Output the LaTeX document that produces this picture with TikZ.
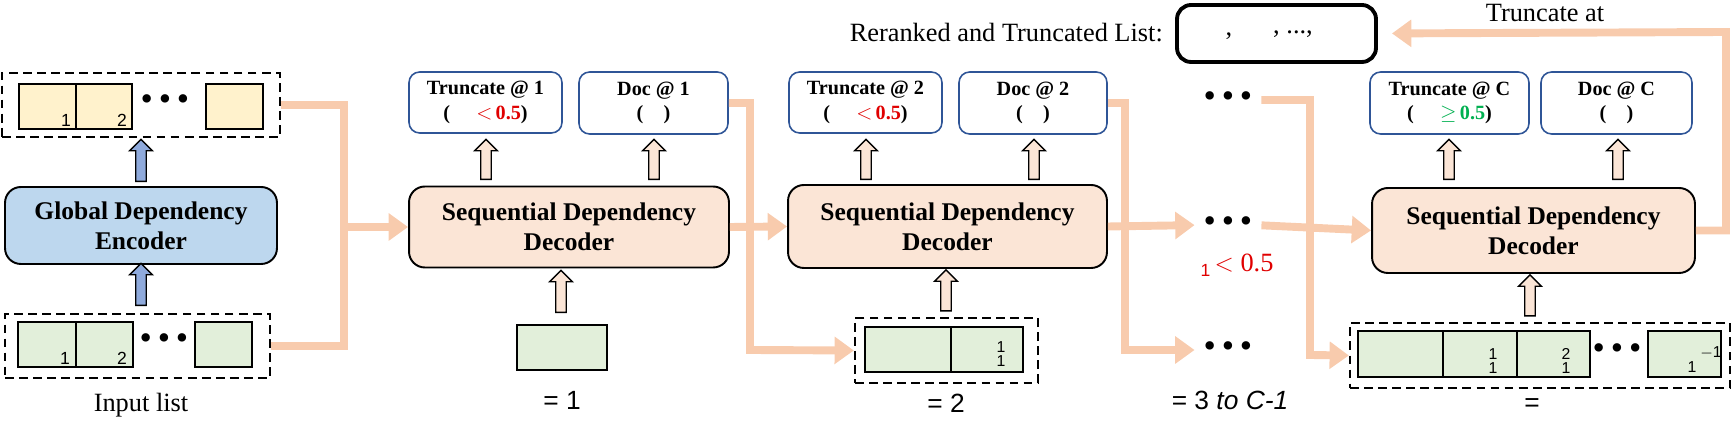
\documentclass[tikz,border=0pt]{standalone}
\usepackage{fontspec}
\setmainfont{Liberation Serif}
\setsansfont{Liberation Sans}
\usetikzlibrary{shapes.arrows,arrows.meta,calc}
\definecolor{oline}{HTML}{F8CBAD}
\definecolor{ofill}{HTML}{FBE5D6}
\definecolor{yfill}{HTML}{FFF2CC}
\definecolor{gfill}{HTML}{E2EFDA}
\definecolor{bfill}{HTML}{BDD7EE}
\definecolor{barrow}{HTML}{8FAADC}
\definecolor{bborder}{HTML}{2F5597}
\definecolor{gtext}{HTML}{00B050}
\definecolor{rtext}{HTML}{E00000}
\begin{document}
\begin{tikzpicture}[x=0.02cm,y=-0.02cm,
  dbox/.style={draw,line width=1.3pt,dash pattern=on 5pt off 3pt,inner sep=0},
  cellY/.style={draw,line width=1pt,fill=yfill,inner sep=0},
  cellG/.style={draw,line width=1pt,fill=gfill,inner sep=0},
  sub/.style={font=\sffamily\fontsize{10}{10}\selectfont,inner sep=0},
  big/.style={draw,line width=1.1pt,rounded corners=9pt,align=center,font=\bfseries\fontsize{14.5}{17}\selectfont},
  small/.style={draw=bborder,line width=0.9pt,rounded corners=6pt,fill=white,align=center,font=\bfseries\fontsize{11.5}{14}\selectfont},
  harrow/.style={single arrow,draw,line width=0.8pt,shape border rotate=90,inner sep=2.6pt,single arrow head extend=3.5pt,minimum height=0.84cm},
  ol/.style={oline,line width=4.5pt},
  ola/.style={oline,line width=4.5pt,-{Triangle[length=11pt,width=15pt]}},
  dots/.style={font=\fontsize{20}{20}\selectfont,inner sep=1pt},
  lab/.style={font=\sffamily\fontsize{15}{15}\selectfont}
]
\useasboundingbox (0,0) rectangle (1732,421);
% left part
\node[dbox,minimum width=5.56cm,minimum height=1.28cm] (tdash) at (141,105) {};
\node[cellY,minimum width=1.14cm,minimum height=0.9cm] (y1) at (47.5,106.5) {};
\node[cellY,minimum width=1.12cm,minimum height=0.9cm] (y2) at (104,106.5) {};
\node[cellY,minimum width=1.14cm,minimum height=0.9cm] (y3) at (234.5,106.5) {};
\node[dots] (yd) at (165,103) {\textbullet\,\textbullet\,\textbullet};
\node[sub] (ys1) at (66,120) {1};
\node[sub] (ys2) at (122,120) {2};
\node[harrow,fill=barrow] (ba1) at (141,163) {};
\node[big,fill=bfill,minimum width=5.44cm,minimum height=1.54cm] (gde) at (141,225.5) {Global Dependency\\Encoder};
\node[harrow,fill=barrow] (ba2) at (141,287) {};
\node[dbox,minimum width=5.3cm,minimum height=1.28cm] (bdash) at (137.5,346) {};
\node[cellG,minimum width=1.16cm,minimum height=0.9cm] (g1) at (47,344.5) {};
\node[cellG,minimum width=1.14cm,minimum height=0.9cm] (g2) at (104.5,344.5) {};
\node[cellG,minimum width=1.14cm,minimum height=0.9cm] (g3) at (223.5,344.5) {};
\node[dots] (gd) at (164,342) {\textbullet\,\textbullet\,\textbullet};
\node[sub] (gs1) at (65,358) {1};
\node[sub] (gs2) at (122,358) {2};
\node[font=\fontsize{15}{15}\selectfont] (inl) at (141,405) {Input list};
% stage 1
\node[small,minimum width=3.06cm,minimum height=1.22cm] (t1) at (485.5,102.5) {Truncate @ 1\\(\hspace{1.3em}\textcolor{rtext}{$<$\,0.5})};
\node[small,minimum width=2.98cm,minimum height=1.24cm] (d1) at (653.5,103) {Doc @ 1\\(\hspace{1em})};
\node[big,fill=ofill,minimum width=6.4cm,minimum height=1.62cm] (s1) at (569,227) {Sequential Dependency\\Decoder};
\node[harrow,fill=ofill,minimum height=0.8cm] (a1t) at (486,162) {};
\node[harrow,fill=ofill,minimum height=0.8cm] (a1d) at (654,162) {};
\node[harrow,fill=ofill] (a1i) at (561,294) {};
\node[cellG,minimum width=1.8cm,minimum height=0.9cm] (c1) at (562,347.5) {};
\node[lab] (e1) at (562,400) {= 1};
% stage 2
\node[small,minimum width=3.06cm,minimum height=1.22cm] (t2) at (865.5,102.5) {Truncate @ 2\\(\hspace{1.3em}\textcolor{rtext}{$<$\,0.5})};
\node[small,minimum width=2.96cm,minimum height=1.24cm] (d2) at (1033,103) {Doc @ 2\\(\hspace{1em})};
\node[big,fill=ofill,minimum width=6.38cm,minimum height=1.66cm] (s2) at (947.5,226.5) {Sequential Dependency\\Decoder};
\node[harrow,fill=ofill,minimum height=0.8cm] (a2t) at (866,162) {};
\node[harrow,fill=ofill,minimum height=0.8cm] (a2d) at (1034,162) {};
\node[harrow,fill=ofill,minimum height=0.82cm] (a2i) at (946,293) {};
\node[dbox,minimum width=3.66cm,minimum height=1.3cm] (dash2) at (946.5,350.5) {};
\node[cellG,minimum width=1.72cm,minimum height=0.9cm] (c21) at (908,349.5) {};
\node[cellG,minimum width=1.44cm,minimum height=0.9cm] (c22) at (987,349.5) {};
\node[sub,align=center,font=\sffamily\fontsize{9}{8}\selectfont] (c22s) at (1001,354) {1\\1};
\node[lab] (e2) at (946,403) {= 2};
% top list
\node[font=\fontsize{15}{15}\selectfont,anchor=east] (rl) at (1169,33) {Reranked and Truncated List:};
\node[draw,line width=2.2pt,rounded corners=8pt,minimum width=3.98cm,minimum height=1.14cm] (lb) at (1276.5,33.5) {};
\node[font=\fontsize{15}{15}\selectfont] (cm1) at (1229,36) {,};
\node[font=\fontsize{15}{15}\selectfont] (cm2) at (1293,34) {, ...,};
% middle dots
\node[dots] (dA) at (1228,100) {\textbullet\,\textbullet\,\textbullet};
\node[dots] (dB) at (1228,225) {\textbullet\,\textbullet\,\textbullet};
\node[dots] (dC) at (1228,350) {\textbullet\,\textbullet\,\textbullet};
\node[text=rtext,font=\fontsize{15}{15}\selectfont] (rc) at (1237,265) {\textsf{\fontsize{10}{10}\selectfont\raisebox{-3pt}{1}}\,$<$ 0.5};
\node[lab] (e3) at (1230,400) {= 3 \textit{to C-1}};
% stage C
\node[small,minimum width=3.18cm,minimum height=1.24cm] (tC) at (1449.5,103) {Truncate @ C\\(\hspace{1.3em}\textcolor{gtext}{$\geq$\,0.5})};
\node[small,minimum width=3.02cm,minimum height=1.24cm] (dCC) at (1616.5,103) {Doc @ C\\(\hspace{1em})};
\node[big,fill=ofill,minimum width=6.46cm,minimum height=1.7cm] (s3) at (1533.5,230.5) {Sequential Dependency\\Decoder};
\node[harrow,fill=ofill,minimum height=0.8cm] (a3t) at (1449,162) {};
\node[harrow,fill=ofill,minimum height=0.8cm] (a3d) at (1618,162) {};
\node[harrow,fill=ofill,minimum height=0.82cm] (a3i) at (1530,298) {};
\node[dbox,minimum width=7.6cm,minimum height=1.3cm] (dash3) at (1540,355.5) {};
\node[cellG,minimum width=1.7cm,minimum height=0.92cm] (c31) at (1400.5,354) {};
\node[cellG,minimum width=1.48cm,minimum height=0.92cm] (c32) at (1480,354) {};
\node[cellG,minimum width=1.46cm,minimum height=0.92cm] (c33) at (1553.5,354) {};
\node[dots] (c3d) at (1617,352) {\textbullet\,\textbullet\,\textbullet};
\node[cellG,minimum width=1.46cm,minimum height=0.92cm] (c35) at (1684.5,354) {};
\node[sub,align=center,font=\sffamily\fontsize{9}{8}\selectfont] (c32s) at (1493,361) {1\\1};
\node[sub,align=center,font=\sffamily\fontsize{9}{8}\selectfont] (c33s) at (1566,361) {2\\1};
\node[sub,font=\sffamily\fontsize{9}{9}\selectfont] (c35a) at (1711,353) {$-$1};
\node[sub,font=\sffamily\fontsize{9}{9}\selectfont] (c35b) at (1692,367) {1};
\node[font=\sffamily\fontsize{15}{15}\selectfont] (e4) at (1532,405) {=};
\node[font=\fontsize{15}{15}\selectfont] (tat) at (1545,13) {Truncate at};
% connectors
\coordinate (j1) at (344,227);
\draw[ol] (tdash.east) -| (j1);
\draw[ol] (bdash.east) -| (j1);
\draw[ola] (j1) -- (s1.west);
\coordinate (k1) at (750,350);
\draw[ola] (d1.east) -| (k1) -- (dash2.west);
\draw[ola] (s1.east) -- (s2.west);
\coordinate (k2) at (1125,350);
\draw[ola,shorten >=4pt] (d2.east) -| (k2) -- (dC.west);
\draw[ola,shorten >=4pt] (s2.east) -- (dB.west);
\coordinate (k3) at (1310,355);
\draw[ola,shorten <=4pt] (dA.east) -| (k3) -- (dash3.west);
\draw[ola,shorten <=4pt] (dB.east) -- (s3.west);
\coordinate (k4) at (1726,32);
\draw[ola,shorten >=8pt] (s3.east) -| (k4) -- (lb.east);
\end{tikzpicture}
\end{document}
